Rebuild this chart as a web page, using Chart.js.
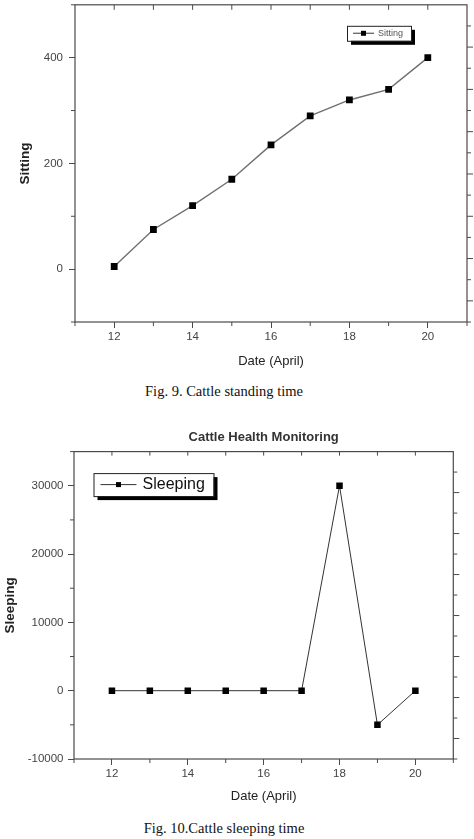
<!DOCTYPE html>
<html>
<head>
<meta charset="utf-8">
<script src="https://cdn.jsdelivr.net/npm/chart.js@4.4.1/dist/chart.umd.min.js"></script>
<style>
    html, body { margin: 0; padding: 0; background: #fff; }
    body { width: 474px; height: 839px; position: relative; overflow: hidden; }
    .wrap { position: absolute; left: 0; width: 474px; }
    #wrap1 { top: 0; height: 380px; }
    #wrap2 { top: 420px; height: 390px; }
    .cap {
        position: absolute;
        font-family: "Liberation Serif", "DejaVu Serif", serif;
        font-size: 14.5px;
        color: #111;
        white-space: nowrap;
        transform: translateX(-50%);
    }
</style>
</head>
<body>
<div class="wrap" id="wrap1"><canvas id="sittingChart"></canvas></div>
<div class="cap" style="left:224px; top:383px;">Fig. 9. Cattle standing time</div>
<div class="wrap" id="wrap2"><canvas id="sleepingChart"></canvas></div>
<div class="cap" style="left:224px; top:820px;">Fig. 10.Cattle sleeping time</div>

<script>
// --- data ---
const days = [12, 13, 14, 15, 16, 17, 18, 19, 20];
const sitting = [5, 75, 120, 170, 235, 290, 320, 340, 400];
const sleeping = [0, 0, 0, 0, 0, 0, 30000, -5000, 0];

const xTickLabels = [12, 14, 16, 18, 20];
const xMinorTicks = [11, 13, 15, 17, 19, 21];
const sittingTicks = [0, 200, 400];
const sittingMinor = [-100, 100, 300, 500];
const sleepingTicks = [-10000, 0, 10000, 20000, 30000];
const sleepingMinor = [-5000, 5000, 15000, 25000, 35000];
// the unlabelled right-hand frame axis
const rightMajor = [0, 100, 200, 300, 400, 500, 600];
const rightMinor = [-50, 50, 150, 250, 350, 450, 550, 650];

const sans = '"Liberation Sans", Arial, sans-serif';
const frameColor = '#4a4a4a';

function line(ctx, x1, y1, x2, y2) {
    ctx.beginPath();
    ctx.moveTo(x1, y1);
    ctx.lineTo(x2, y2);
    ctx.stroke();
}

// no extra room for the end labels, the frame is placed by hand
function noPad(s) {
    s.paddingTop = 0;
    s.paddingBottom = 0;
    s.paddingLeft = 0;
    s.paddingRight = 0;
}

// --- frame box + minor / top / right ticks ---
const frameTicks = {
    id: 'frameTicks',
    afterDraw(chart, args, o) {
        const { ctx, chartArea: a, scales } = chart;
        ctx.save();
        ctx.strokeStyle = frameColor;
        ctx.lineWidth = 1.2;
        ctx.strokeRect(a.left, a.top, a.right - a.left, a.bottom - a.top);
        ctx.lineWidth = 1;
        o.leftMinor.forEach(v => {
            const y = scales.y.getPixelForValue(v);
            line(ctx, a.left - 4, y, a.left, y);
        });
        o.bottomMinor.forEach(v => {
            const x = scales.x.getPixelForValue(v);
            line(ctx, x, a.bottom, x, a.bottom + 4);
        });
        o.topTicks.forEach(v => {
            const x = scales.x.getPixelForValue(v);
            line(ctx, x, a.top, x, a.top + o.topLen);
        });
        rightMajor.forEach(v => {
            const y = scales.y2.getPixelForValue(v);
            line(ctx, a.right, y, a.right + 6, y);
        });
        rightMinor.forEach(v => {
            const y = scales.y2.getPixelForValue(v);
            line(ctx, a.right, y, a.right + 4, y);
        });
        ctx.restore();
    }
};

// --- Origin style legend box with drop shadow ---
const boxLegend = {
    id: 'boxLegend',
    afterDraw(chart, args, o) {
        const { ctx, chartArea: a } = chart;
        const ds = chart.data.datasets[0];
        const x = a.left + o.dx, y = a.top + o.dy;
        ctx.save();
        ctx.fillStyle = '#000';
        ctx.fillRect(x + 4, y + 4, o.w, o.h);
        ctx.fillStyle = '#fff';
        ctx.fillRect(x, y, o.w, o.h);
        ctx.strokeStyle = '#222';
        ctx.lineWidth = 1;
        ctx.strokeRect(x + 0.5, y + 0.5, o.w, o.h);
        const cy = y + o.h / 2;
        ctx.strokeStyle = ds.borderColor;
        ctx.lineWidth = ds.borderWidth;
        line(ctx, x + o.lineX1, cy, x + o.lineX2, cy);
        const mx = x + (o.lineX1 + o.lineX2) / 2;
        ctx.fillStyle = '#000';
        ctx.fillRect(mx - o.mark / 2, cy - o.mark / 2, o.mark, o.mark);
        ctx.fillStyle = o.color;
        ctx.font = o.font;
        ctx.textBaseline = 'middle';
        ctx.textAlign = 'left';
        ctx.fillText(ds.label, x + o.textX, cy);
        ctx.restore();
    }
};

function points(ys) {
    return days.map((d, i) => ({ x: d, y: ys[i] }));
}

function xScale(height, titlePad) {
    return {
        type: 'linear', min: 11, max: 21,
        afterBuildTicks: s => { s.ticks = xTickLabels.map(v => ({ value: v })); },
        afterFit: s => { s.height = height; noPad(s); },
        grid: { display: true, drawOnChartArea: false, drawTicks: true, tickLength: 6, color: frameColor },
        border: { display: false },
        ticks: { padding: 1.5, color: '#444', font: { family: sans, size: 11.5 }, callback: v => String(v) },
        title: { display: true, text: 'Date (April)', color: '#222', font: { family: sans, size: 13 }, padding: { top: 0, bottom: titlePad } }
    };
}

function yScale(min, max, tickList, label, width, titlePad, tickPad) {
    return {
        min: min, max: max,
        afterBuildTicks: s => { s.ticks = tickList.map(v => ({ value: v })); },
        afterFit: s => { s.width = width; noPad(s); },
        grid: { display: true, drawOnChartArea: false, drawTicks: true, tickLength: 6, color: frameColor },
        border: { display: false },
        ticks: { padding: tickPad, color: '#444', font: { family: sans, size: 11.5 }, callback: v => String(v) },
        title: { display: true, text: label, color: '#222', font: { family: sans, size: 13.5, weight: 'bold' }, padding: { top: titlePad, bottom: 0 } }
    };
}

const rightScale = {
    position: 'right', min: -50, max: 700,
    afterFit: s => { s.width = 0; noPad(s); },
    ticks: { display: false },
    grid: { display: false },
    border: { display: false }
};

// --- Fig. 9 ---
new Chart(document.getElementById('sittingChart'), {
    type: 'line',
    data: {
        datasets: [{
            label: 'Sitting',
            data: points(sitting),
            borderColor: '#707070',
            borderWidth: 1.4,
            pointStyle: 'rect',
            pointRadius: 4.8,
            pointBackgroundColor: '#000',
            pointBorderColor: '#000',
            pointBorderWidth: 0,
            tension: 0
        }]
    },
    options: {
        responsive: true,
        maintainAspectRatio: false,
        animation: false,
        layout: { padding: { top: 4, right: 7, left: 0, bottom: 0 } },
        scales: {
            x: xScale(58, 10.5),
            y: yScale(-100, 500, sittingTicks, 'Sitting', 75, 17.5, 6),
            y2: rightScale
        },
        plugins: {
            legend: { display: false },
            tooltip: { enabled: false },
            frameTicks: { leftMinor: sittingMinor, bottomMinor: xMinorTicks, topTicks: days, topLen: 5 },
            boxLegend: { dx: 272, dy: 21, w: 64, h: 15, lineX1: 6, lineX2: 27, mark: 5, textX: 31, font: '9px ' + sans, color: '#555' }
        }
    },
    plugins: [frameTicks, boxLegend]
});

// --- Fig. 10 ---
new Chart(document.getElementById('sleepingChart'), {
    type: 'line',
    data: {
        datasets: [{
            label: 'Sleeping',
            data: points(sleeping),
            borderColor: '#333',
            borderWidth: 1,
            pointStyle: 'rect',
            pointRadius: 4.6,
            pointBackgroundColor: '#000',
            pointBorderColor: '#000',
            pointBorderWidth: 0,
            tension: 0
        }]
    },
    options: {
        responsive: true,
        maintainAspectRatio: false,
        animation: false,
        layout: { padding: { top: 0, right: 20.7, left: 0, bottom: 0 } },
        scales: {
            x: xScale(51, 5.5),
            y: yScale(-10000, 35000, sleepingTicks, 'Sleeping', 74, 2, 4.5),
            y2: rightScale
        },
        plugins: {
            legend: { display: false },
            tooltip: { enabled: false },
            title: {
                display: true,
                text: 'Cattle Health Monitoring',
                fullSize: false,
                color: '#333',
                font: { family: sans, size: 13, weight: 'bold' },
                padding: { top: 10, bottom: 6 }
            },
            frameTicks: { leftMinor: sleepingMinor, bottomMinor: xMinorTicks, topTicks: days, topLen: 4 },
            boxLegend: { dx: 19.5, dy: 21.5, w: 120, h: 23, lineX1: 7, lineX2: 43, mark: 5, textX: 49, font: '16px ' + sans, color: '#111' }
        }
    },
    plugins: [frameTicks, boxLegend]
});
</script>
</body>
</html>
